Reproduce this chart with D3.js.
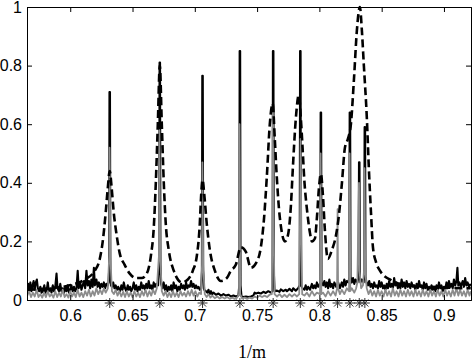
<!DOCTYPE html>
<html><head><meta charset="utf-8">
<script src="https://cdn.jsdelivr.net/npm/d3@7"></script>
<style>body{margin:0;background:#fff}svg{display:block}</style>
</head><body><svg id="c" width="474" height="363"></svg>
<script>
// ---- data ----
const xTicks = [0.6, 0.65, 0.7, 0.75, 0.8, 0.85, 0.9];
const yTicks = [0, 0.2, 0.4, 0.6, 0.8, 1];
const xLabel = "1/m";
const starX = [0.6317, 0.6719, 0.7062, 0.7362, 0.7629, 0.7847, 0.8012, 0.8146, 0.8245, 0.8320, 0.8365];
const starY = 0;

const blackSeries = [
[0.5655,0.03],[0.5662,0.055],[0.567,0.035],[0.568,0.06],[0.5688,0.03],[0.5698,0.05],[0.5706,0.065],[0.5714,0.035],[0.5724,0.06],[0.5732,0.07],[0.574,0.04],[0.575,0.03],[0.576,0.045],[0.577,0.025],[0.578,0.03],[0.5792,0.05],[0.58,0.025],[0.5812,0.035],[0.582,0.06],[0.5828,0.03],[0.584,0.04],[0.585,0.025],[0.586,0.05],[0.587,0.03],[0.588,0.045],[0.589,0.09],[0.5898,0.04],[0.591,0.03],[0.592,0.055],[0.593,0.03],[0.594,0.04],[0.595,0.025],[0.5962,0.045],[0.597,0.03],[0.598,0.05],[0.599,0.025],[0.6,0.035],[0.601,0.05],[0.602,0.03],[0.603,0.045],[0.604,0.03],[0.605,0.04],[0.606,0.1],[0.6068,0.04],[0.608,0.06],[0.609,0.035],[0.61,0.05],[0.611,0.065],[0.612,0.04],[0.613,0.1],[0.614,0.05],[0.615,0.065],[0.616,0.04],[0.617,0.07],[0.618,0.045],[0.619,0.11],[0.6198,0.05],[0.621,0.07],[0.622,0.045],[0.623,0.06],[0.624,0.04],[0.625,0.055],[0.626,0.045],[0.627,0.06],[0.628,0.04],[0.629,0.055],[0.63,0.05],[0.6308,0.06],[0.6312,0.1],[0.6315,0.71],[0.6319,0.71],[0.6322,0.1],[0.6327,0.05],
[0.6335,0.045],[0.6345,0.06],[0.6355,0.04],[0.6365,0.05],[0.6375,0.035],[0.6385,0.045],[0.64,0.03],[0.641,0.05],[0.642,0.035],[0.643,0.06],[0.644,0.04],[0.645,0.03],[0.6462,0.05],[0.647,0.035],[0.648,0.045],[0.649,0.03],[0.65,0.04],[0.651,0.06],[0.652,0.035],[0.653,0.05],[0.654,0.03],[0.655,0.045],[0.656,0.035],[0.657,0.06],[0.658,0.04],[0.659,0.05],[0.66,0.035],[0.661,0.055],[0.662,0.04],[0.663,0.065],[0.664,0.04],[0.665,0.05],[0.666,0.035],[0.667,0.06],[0.668,0.045],[0.669,0.055],[0.6705,0.05],[0.6714,0.12],[0.6717,0.81],[0.6721,0.81],[0.6724,0.12],[0.673,0.055],
[0.674,0.04],[0.675,0.06],[0.676,0.035],[0.677,0.05],[0.678,0.03],[0.679,0.045],[0.68,0.035],[0.681,0.05],[0.682,0.03],[0.683,0.06],[0.684,0.04],[0.685,0.05],[0.686,0.03],[0.687,0.045],[0.688,0.035],[0.689,0.055],[0.69,0.04],[0.691,0.05],[0.692,0.035],[0.693,0.06],[0.694,0.04],[0.695,0.05],[0.696,0.045],[0.697,0.065],[0.698,0.045],[0.699,0.055],[0.7,0.04],[0.701,0.05],[0.702,0.04],[0.703,0.045],[0.704,0.035],[0.7052,0.04],[0.7057,0.1],[0.706,0.765],[0.7064,0.765],[0.7067,0.1],[0.7075,0.035],
[0.709,0.03],[0.71,0.025],[0.711,0.035],[0.712,0.02],[0.713,0.03],[0.714,0.02],[0.715,0.025],[0.717,0.018],[0.719,0.022],[0.721,0.015],[0.723,0.02],[0.725,0.015],[0.727,0.018],[0.729,0.012],[0.731,0.015],[0.733,0.012],[0.735,0.015],[0.7357,0.05],[0.736,0.85],[0.7364,0.85],[0.7367,0.05],[0.7375,0.012],
[0.739,0.01],[0.741,0.012],[0.743,0.01],[0.745,0.012],[0.747,0.015],[0.748,0.025],[0.749,0.022],[0.751,0.025],[0.753,0.022],[0.755,0.028],[0.757,0.024],[0.759,0.03],[0.761,0.025],[0.7621,0.03],[0.7625,0.1],[0.7627,0.85],[0.7631,0.85],[0.7634,0.1],[0.764,0.03],
[0.766,0.032],[0.768,0.028],[0.769,0.036],[0.771,0.03],[0.773,0.035],[0.774,0.03],[0.776,0.038],[0.778,0.03],[0.779,0.04],[0.781,0.032],[0.783,0.04],[0.7842,0.05],[0.7845,0.85],[0.7849,0.85],[0.7852,0.05],
[0.7865,0.04],[0.788,0.035],[0.789,0.05],[0.79,0.035],[0.791,0.045],[0.7925,0.035],[0.794,0.055],[0.795,0.04],[0.796,0.05],[0.797,0.04],[0.798,0.06],[0.799,0.045],[0.8,0.05],[0.8007,0.06],[0.801,0.64],[0.8014,0.64],[0.8017,0.06],
[0.803,0.05],[0.804,0.065],[0.805,0.045],[0.806,0.06],[0.807,0.04],[0.808,0.07],[0.809,0.045],[0.81,0.055],[0.811,0.04],[0.812,0.06],[0.8135,0.045],[0.815,0.06],[0.8165,0.04],[0.818,0.06],[0.819,0.045],[0.82,0.07],[0.821,0.05],[0.822,0.065],[0.8235,0.06],[0.824,0.08],[0.8243,0.64],[0.8247,0.64],[0.825,0.08],[0.826,0.06],[0.827,0.075],[0.828,0.055],[0.829,0.07],[0.8305,0.06],[0.8315,0.08],[0.8318,0.47],[0.8322,0.47],[0.8325,0.08],[0.833,0.06],[0.834,0.07],[0.8355,0.06],[0.836,0.08],[0.8363,0.59],[0.8367,0.59],[0.837,0.08],[0.8378,0.06],
[0.839,0.05],[0.84,0.065],[0.841,0.045],[0.842,0.055],[0.843,0.04],[0.844,0.06],[0.845,0.045],[0.846,0.05],[0.847,0.04],[0.848,0.065],[0.849,0.045],[0.85,0.06],[0.851,0.04],[0.852,0.05],[0.853,0.035],[0.854,0.055],[0.855,0.04],[0.856,0.065],[0.857,0.045],[0.858,0.055],[0.859,0.04],[0.86,0.075],[0.861,0.05],[0.862,0.06],[0.863,0.04],[0.864,0.055],[0.865,0.04],[0.866,0.07],[0.867,0.045],[0.868,0.06],[0.869,0.04],[0.87,0.065],[0.871,0.045],[0.872,0.055],[0.873,0.04],[0.874,0.06],[0.875,0.045],[0.876,0.05],[0.877,0.035],[0.878,0.055],[0.879,0.04],[0.88,0.065],[0.881,0.045],[0.882,0.05],[0.883,0.035],[0.884,0.06],[0.885,0.04],[0.886,0.055],[0.887,0.035],[0.888,0.045],[0.889,0.03],[0.89,0.05],[0.891,0.035],[0.892,0.045],[0.893,0.03],[0.894,0.05],[0.895,0.035],[0.896,0.06],[0.897,0.04],[0.898,0.05],[0.899,0.03],[0.9,0.045],[0.901,0.035],[0.902,0.06],[0.903,0.04],[0.904,0.065],[0.905,0.045],[0.906,0.055],[0.907,0.04],[0.908,0.07],[0.909,0.05],[0.91,0.065],[0.9108,0.11],[0.9115,0.05],[0.9125,0.06],[0.9135,0.045],[0.915,0.065],[0.916,0.045],[0.917,0.075],[0.918,0.05],[0.919,0.06],[0.92,0.045],[0.9215,0.055]
];

const graySeries = [
[0.5655,0.015],[0.567,0.03],[0.5685,0.01],[0.57,0.025],[0.5715,0.012],[0.573,0.035],[0.5745,0.01],[0.576,0.02],[0.5775,0.008],[0.579,0.025],[0.5805,0.01],[0.582,0.03],[0.5835,0.012],[0.585,0.02],[0.5865,0.008],[0.588,0.03],[0.5895,0.01],[0.591,0.025],[0.5925,0.012],[0.594,0.035],[0.5955,0.01],[0.597,0.02],[0.5985,0.008],[0.6,0.03],[0.6015,0.012],[0.603,0.025],[0.6045,0.01],[0.606,0.035],[0.6075,0.012],[0.609,0.025],[0.6105,0.01],[0.612,0.03],[0.6135,0.015],[0.615,0.035],[0.6165,0.012],[0.618,0.03],[0.6195,0.015],[0.621,0.04],[0.6225,0.02],[0.624,0.035],[0.6255,0.02],[0.627,0.04],[0.6285,0.025],[0.6302,0.04],[0.6313,0.15],[0.6316,0.52],[0.6322,0.15],[0.6335,0.03],[0.635,0.02],
[0.6365,0.035],[0.638,0.015],[0.6395,0.03],[0.641,0.012],[0.6425,0.028],[0.644,0.01],[0.6455,0.03],[0.647,0.012],[0.6485,0.025],[0.65,0.01],[0.6515,0.03],[0.653,0.012],[0.6545,0.025],[0.656,0.01],[0.6575,0.03],[0.659,0.015],[0.6605,0.035],[0.662,0.012],[0.6635,0.03],[0.665,0.015],[0.6665,0.035],[0.668,0.02],[0.6695,0.04],[0.6712,0.15],[0.6716,0.58],[0.6722,0.15],[0.6735,0.03],[0.675,0.015],[0.6765,0.03],[0.678,0.01],[0.6795,0.025],[0.681,0.01],[0.6825,0.03],[0.684,0.012],[0.6855,0.025],[0.687,0.01],[0.6885,0.03],[0.69,0.015],[0.6915,0.025],[0.693,0.012],[0.6945,0.03],[0.696,0.015],[0.6975,0.035],[0.699,0.015],[0.7005,0.03],[0.702,0.012],[0.7035,0.025],[0.705,0.02],[0.7058,0.12],[0.7061,0.47],[0.7067,0.12],[0.708,0.02],[0.7095,0.01],[0.711,0.02],[0.7125,0.008],[0.714,0.015],[0.716,0.006],[0.718,0.012],[0.72,0.005],[0.722,0.01],[0.724,0.005],[0.726,0.01],[0.728,0.004],[0.73,0.008],[0.732,0.004],[0.734,0.008],[0.7355,0.02],[0.7359,0.6],[0.7364,0.02],[0.738,0.005],[0.74,0.008],[0.742,0.004],[0.744,0.008],[0.746,0.005],[0.748,0.012],[0.75,0.008],[0.752,0.015],[0.754,0.01],[0.756,0.015],[0.758,0.01],[0.76,0.018],[0.7618,0.02],[0.7624,0.3],[0.7627,0.66],[0.7632,0.25],[0.764,0.02],[0.766,0.012],[0.768,0.02],[0.77,0.01],[0.772,0.018],[0.774,0.01],[0.776,0.02],[0.778,0.012],[0.78,0.02],[0.782,0.012],[0.7838,0.02],[0.7845,0.3],[0.7849,0.55],[0.7855,0.25],[0.7862,0.02],[0.788,0.015],[0.79,0.025],[0.792,0.012],[0.794,0.03],[0.796,0.015],[0.798,0.025],[0.8005,0.02],[0.801,0.5],[0.8016,0.02],[0.803,0.025],[0.805,0.012],[0.807,0.03],[0.809,0.015],[0.811,0.03],[0.813,0.015],[0.8142,0.04],[0.8146,0.31],[0.815,0.04],[0.8165,0.02],[0.818,0.035],[0.82,0.02],[0.822,0.04],[0.8238,0.03],[0.8243,0.5],[0.8248,0.03],[0.826,0.04],[0.828,0.025],[0.8295,0.04],[0.8305,0.06],[0.831,0.2],[0.8318,0.4],[0.8322,0.1],[0.8335,0.04],[0.835,0.05],[0.8358,0.1],[0.8362,0.45],[0.8368,0.1],[0.838,0.04],[0.8395,0.02],[0.841,0.035],[0.8425,0.015],[0.844,0.03],[0.8455,0.012],[0.847,0.035],[0.8485,0.015],[0.85,0.03],[0.8515,0.012],[0.853,0.035],[0.8545,0.015],[0.856,0.03],[0.8575,0.012],[0.859,0.04],[0.8605,0.015],[0.862,0.03],[0.8635,0.012],[0.865,0.035],[0.8665,0.015],[0.868,0.03],[0.8695,0.012],[0.871,0.035],[0.8725,0.015],[0.874,0.03],[0.8755,0.012],[0.877,0.035],[0.8785,0.015],[0.88,0.03],[0.8815,0.012],[0.883,0.035],[0.8845,0.015],[0.886,0.03],[0.8875,0.012],[0.889,0.035],[0.8905,0.015],[0.892,0.03],[0.8935,0.012],[0.895,0.035],[0.8965,0.015],[0.898,0.03],[0.8995,0.012],[0.901,0.035],[0.9025,0.015],[0.904,0.03],[0.9055,0.012],[0.907,0.035],[0.9085,0.015],[0.91,0.04],[0.9115,0.015],[0.913,0.035],[0.9145,0.015],[0.916,0.03],[0.9175,0.012],[0.919,0.035],[0.9205,0.015],[0.9215,0.03]
];

const dashedSeries = [
[0.5659,0.035],[0.5835,0.04],[0.5996,0.05],[0.6116,0.07],[0.6197,0.1],[0.6237,0.14],[0.6261,0.2],[0.6285,0.3],[0.6301,0.38],[0.6317,0.44],[0.6333,0.38],[0.6349,0.3],[0.6373,0.22],[0.6397,0.16],[0.6437,0.12],[0.6478,0.09],[0.6526,0.075],[0.6574,0.075],[0.6614,0.09],[0.6647,0.15],[0.6671,0.25],[0.6687,0.4],[0.6703,0.6],[0.6719,0.8],[0.6735,0.6],[0.6751,0.4],[0.6767,0.26],[0.6791,0.17],[0.6831,0.1],[0.6896,0.06],[0.6944,0.07],[0.6984,0.1],[0.7016,0.15],[0.704,0.26],[0.705,0.35],[0.7062,0.41],[0.7078,0.35],[0.7096,0.26],[0.7121,0.17],[0.7161,0.1],[0.7209,0.065],[0.7257,0.075],[0.7289,0.1],[0.7329,0.12],[0.7369,0.18],[0.7409,0.165],[0.745,0.11],[0.749,0.125],[0.753,0.18],[0.7554,0.27],[0.7578,0.42],[0.7602,0.6],[0.7625,0.67],[0.7642,0.55],[0.7658,0.42],[0.7674,0.32],[0.7699,0.23],[0.7723,0.2],[0.7747,0.22],[0.7771,0.32],[0.7787,0.45],[0.7811,0.62],[0.7835,0.7],[0.7851,0.62],[0.7865,0.52],[0.7879,0.41],[0.79,0.31],[0.7924,0.23],[0.794,0.2],[0.7964,0.21],[0.798,0.28],[0.7996,0.38],[0.8012,0.43],[0.8028,0.36],[0.8044,0.24],[0.8068,0.14],[0.81,0.17],[0.8133,0.22],[0.8157,0.29],[0.8181,0.4],[0.8205,0.52],[0.8229,0.55],[0.8253,0.6],[0.8277,0.75],[0.8301,0.92],[0.8325,1.0],[0.8341,0.92],[0.8357,0.8],[0.8381,0.62],[0.8397,0.45],[0.8414,0.3],[0.843,0.18],[0.8454,0.13],[0.8486,0.1],[0.8526,0.08],[0.8566,0.07],[0.8606,0.06],[0.8647,0.055],[0.8888,0.045],[0.9215,0.04]
];

// ---- layout ----
const L = 27, R = 471, T = 7, B = 300;
const svg = d3.select("#c");
const x = d3.scaleLinear().domain([0.5653, 0.9217]).range([L, R]);
const y = d3.scaleLinear().domain([0, 1]).range([B, T]);

svg.append("clipPath").attr("id","clp").append("rect")
  .attr("x", L).attr("y", T - 2).attr("width", R - L).attr("height", B - T + 2);

const line = d3.line().x(d => x(d[0])).y(d => y(d[1]));
const g = svg.append("g").attr("clip-path","url(#clp)");

g.append("path").datum(blackSeries).attr("d", line)
  .attr("fill","none").attr("stroke","#000").attr("stroke-width",2.1).attr("stroke-linejoin","round");
g.append("path").datum(graySeries).attr("d", line)
  .attr("fill","none").attr("stroke","#8c8c8c").attr("stroke-width",1.8).attr("stroke-linejoin","round");
g.append("path").datum(dashedSeries).attr("d", d3.line().x(d => x(d[0])).y(d => y(d[1])).curve(d3.curveMonotoneX))
  .attr("fill","none").attr("stroke","#000").attr("stroke-width",2.6).attr("stroke-dasharray","8,4");

// stars (8-armed asterisk)
const starR = 5;
function starPath(r){
  const p = d3.path();
  const c = r * Math.SQRT1_2;
  p.moveTo(0,-r); p.lineTo(0,r);
  p.moveTo(-r,0); p.lineTo(r,0);
  p.moveTo(-c,-c); p.lineTo(c,c);
  p.moveTo(-c,c); p.lineTo(c,-c);
  return p.toString();
}
svg.append("g").selectAll("path").data(starX).join("path")
  .attr("transform", d => `translate(${x(d)},${y(starY) + 3})`)
  .attr("d", starPath(starR))
  .attr("fill","none").attr("stroke","#333").attr("stroke-width",1);

// axes box with inward ticks
const tickLen = 5;
const fontF = "'Liberation Sans', Arial, sans-serif";
const axB = svg.append("g").attr("transform",`translate(0,${B})`)
  .call(d3.axisBottom(x).tickValues(xTicks).tickSize(-tickLen).tickPadding(10).tickFormat(d3.format("")));
const axT = svg.append("g").attr("transform",`translate(0,${T})`)
  .call(d3.axisTop(x).tickValues(xTicks).tickSize(-tickLen).tickFormat(""));
const axL = svg.append("g").attr("transform",`translate(${L},0)`)
  .call(d3.axisLeft(y).tickValues(yTicks).tickSize(-tickLen).tickPadding(5).tickFormat(d3.format("")));
const axR = svg.append("g").attr("transform",`translate(${R},0)`)
  .call(d3.axisRight(y).tickValues(yTicks).tickSize(-tickLen).tickFormat(""));
[axB, axT, axL, axR].forEach(a => {
  a.select(".domain").attr("stroke","#000").attr("stroke-width",1);
  a.selectAll(".tick line").attr("stroke","#000");
  a.selectAll("text").attr("fill","#000").attr("font-size","16px").attr("font-family",fontF);
});
axB.selectAll("text").attr("dy","0.71em");

svg.append("text").attr("x", 252).attr("y", 358).attr("text-anchor","middle")
  .attr("font-family","'Liberation Serif', 'Times New Roman', serif").attr("font-size","18px")
  .text(xLabel);
</script></body></html>
